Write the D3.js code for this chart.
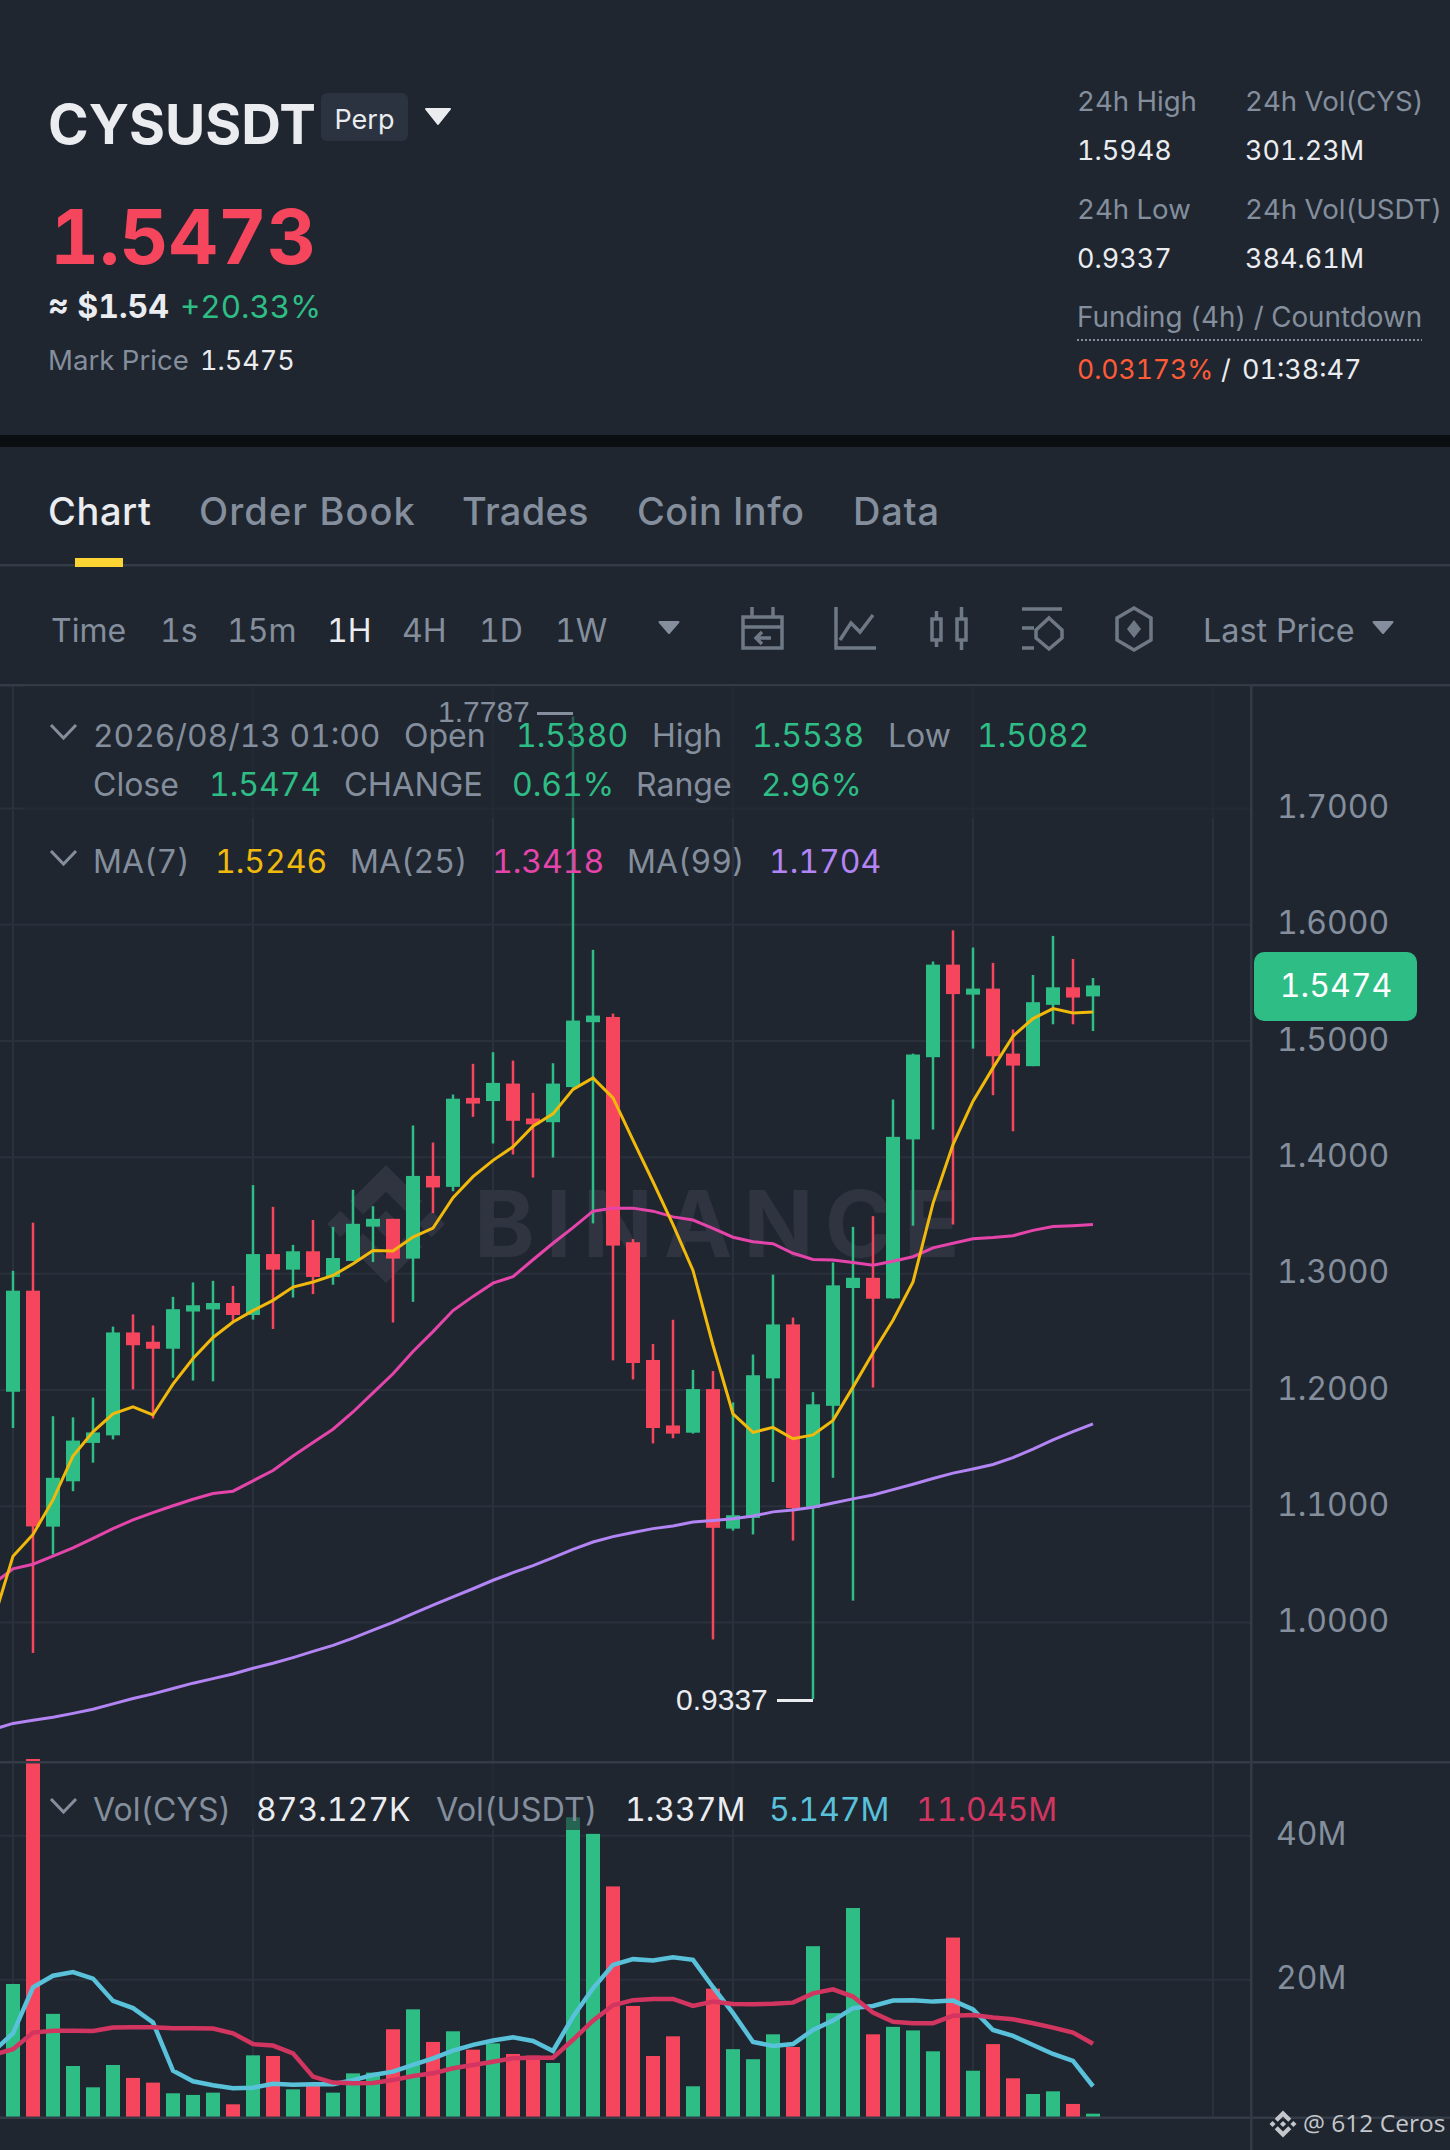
<!DOCTYPE html>
<html>
<head>
<meta charset="utf-8">
<style>
html,body { margin:0; padding:0; background:#1f2630; }
svg { display:block; }
text { font-family:"Inter","Noto Sans",sans-serif; font-feature-settings:"tnum" 1; }
</style>
</head>
<body>
<svg width="1450" height="2150"></svg>
<script src="https://d3js.org/d3.v7.min.js"></script>
<script>
// candles, oldest first
var opens = [1.198,1.2849,1.082,1.121,1.154,1.1605,1.249,1.241,1.235,1.267,1.2688,1.2743,1.264,1.3164,1.303,1.3188,1.2967,1.3105,1.340,1.3467,1.3125,1.3836,1.3742,1.4507,1.448,1.463,1.433,1.4298,1.460,1.5158,1.5203,1.3266,1.2253,1.169,1.1628,1.2003,1.0803,1.0895,1.2095,1.2559,1.098,1.1859,1.2872,1.296,1.2783,1.415,1.4857,1.5653,1.5395,1.5447,1.4888,1.478,1.5307,1.5458,1.538];
var highs = [1.302,1.3434,1.177,1.176,1.193,1.254,1.2645,1.255,1.2796,1.292,1.2934,1.289,1.3757,1.357,1.3243,1.3457,1.3398,1.3717,1.3576,1.3467,1.427,1.4123,1.4536,1.480,1.490,1.4828,1.455,1.4805,1.7787,1.578,1.5232,1.3293,1.2391,1.2599,1.2168,1.2158,1.1888,1.23,1.2987,1.2618,1.1977,1.3092,1.3398,1.349,1.4493,1.4888,1.568,1.5948,1.58,1.5668,1.5095,1.5564,1.59,1.5702,1.5538];
var lows = [1.1668,0.9734,1.058,1.1125,1.137,1.157,1.200,1.175,1.210,1.2076,1.207,1.258,1.260,1.252,1.279,1.282,1.290,1.3105,1.3095,1.2576,1.2753,1.3516,1.3705,1.4344,1.4115,1.402,1.3822,1.3994,1.4595,1.3428,1.225,1.2086,1.1536,1.158,1.162,0.985,1.0786,1.0753,1.1204,1.07,0.9337,1.124,1.0184,1.2016,1.278,1.3408,1.4235,1.3418,1.4931,1.453,1.422,1.478,1.514,1.514,1.5082];
var closes = [1.2849,1.0822,1.124,1.156,1.163,1.249,1.238,1.235,1.269,1.2724,1.2743,1.264,1.3164,1.303,1.3188,1.2967,1.313,1.3424,1.3467,1.3125,1.3836,1.3737,1.450,1.4458,1.4636,1.431,1.428,1.463,1.5172,1.5215,1.3237,1.2227,1.1668,1.162,1.2003,1.081,1.0918,1.2122,1.2559,1.098,1.1872,1.2895,1.296,1.278,1.4172,1.488,1.5653,1.540,1.5447,1.4865,1.4785,1.533,1.5458,1.537,1.5474];

// moving averages start one candle left of the frame
var ma7 = [1.0,1.0566,1.0753,1.105,1.1428,1.1635,1.179,1.185,1.178,1.2046,1.2266,1.2447,1.258,1.2678,1.2766,1.288,1.2924,1.298,1.308,1.3194,1.319,1.331,1.3388,1.3648,1.383,1.397,1.4086,1.4264,1.437,1.458,1.4679,1.4507,1.4143,1.3786,1.3418,1.3023,1.238,1.179,1.163,1.1674,1.1576,1.1609,1.1734,1.202,1.2316,1.2595,1.2924,1.36,1.4106,1.4479,1.4765,1.5037,1.5189,1.5275,1.5238,1.5246];
var ma25 = [1.0326,1.0457,1.0497,1.0566,1.0638,1.072,1.0803,1.0878,1.0941,1.1,1.1056,1.1105,1.1125,1.1214,1.1303,1.1428,1.1543,1.1658,1.1806,1.197,1.2135,1.2326,1.2497,1.2678,1.28,1.2914,1.297,1.3115,1.3257,1.3391,1.3533,1.3559,1.3559,1.3533,1.3484,1.3457,1.3385,1.3309,1.327,1.3253,1.3171,1.3118,1.3112,1.3092,1.3069,1.3102,1.3141,1.3217,1.3257,1.3296,1.3306,1.3322,1.3368,1.3401,1.3408,1.3418];
var ma99 = [0.9076,0.9128,0.9155,0.9181,0.9214,0.925,0.9296,0.9342,0.9382,0.9428,0.9474,0.9513,0.9553,0.9602,0.9645,0.9694,0.9747,0.9799,0.9862,0.9931,0.9997,1.0072,1.0145,1.0217,1.0286,1.0359,1.0424,1.0484,1.0553,1.0625,1.0688,1.0734,1.077,1.0803,1.0826,1.0859,1.0872,1.0888,1.0911,1.0947,1.0964,1.0987,1.1023,1.1059,1.1092,1.1138,1.1184,1.1234,1.128,1.1316,1.1355,1.1414,1.1487,1.1566,1.1638,1.1704];

// volume in millions USDT
var volumes = [19.35,50.6,15.2,7.96,5.0,8.1,6.3,5.65,4.17,3.94,4.26,2.64,9.44,9.35,4.72,5.5,4.26,6.94,7.04,13.06,15.83,11.3,12.78,10.23,11.1,9.63,9.4,8.38,42.5,40.2,32.9,16.3,9.35,12.08,5.14,18.7,10.3,8.9,12.36,10.6,24.6,15.3,29.9,12.36,13.4,12.9,10.0,25.8,7.3,11.0,6.25,4.07,4.44,2.69,1.337];
var volMa5 = [9.95,12.5,18.89,20.5,21.0,20.1,17.0,16.0,14.0,7.3,5.83,5.28,4.86,4.95,5.5,5.37,5.42,5.42,6.0,6.7,7.18,8.1,9.03,10.1,10.9,11.5,11.94,11.44,10.05,14.8,18.75,22.0,22.8,22.6,23.05,22.7,18.9,15.3,11.3,10.74,11.0,12.96,14.26,16.0,16.3,17.04,17.1,16.9,17.04,15.83,12.96,12.13,10.88,9.63,8.66,5.147];
var volMa10 = [9.5,10.28,12.6,12.87,12.87,12.82,13.29,13.33,13.33,13.2,13.2,13.15,12.5,11.0,10.8,9.72,6.48,5.65,5.56,5.6,6.0,6.57,6.94,7.64,8.1,8.56,9.03,9.12,9.12,11.6,14.26,16.4,17.1,17.27,17.27,16.3,16.9,16.57,16.53,16.6,16.76,18.05,18.6,17.6,15.37,14.1,13.9,13.9,14.95,15.05,14.68,14.44,13.9,13.29,12.6,11.045];

var priceTicks = [1.0,1.1,1.2,1.3,1.4,1.5,1.6,1.7];
var volTicks = [20,40];
var gridCandles = [0,12,24,36,48,60];

var bg = "#1f2630", green = "#2ebd85", red = "#f6465d", gray = "#848e9c", white = "#eaecef",
    line = "#333b47", gridColor = "#2a313c";

var svg = d3.select("svg");
var axisX = 1251;

var x = d3.scaleLinear().domain([0, 54]).range([13, 1093]);
var y = d3.scaleLinear().domain([1.0, 1.7]).range([1622, 808]);
var yVol = d3.scaleLinear().domain([0, 40]).range([2123.3, 1835.3]);

svg.append("rect").attr("width", 1450).attr("height", 2150).attr("fill", bg);

function label(parent, px, py, str, size, fill, weight, anchor) {
  return parent.append("text")
    .attr("x", px).attr("y", py)
    .attr("font-size", size)
    .attr("font-weight", weight || 400)
    .attr("text-anchor", anchor || "start")
    .attr("fill", fill)
    .text(str);
}
function tri(cx, top, w, h, fill) {
  svg.append("path")
    .attr("d", d3.line()([[cx - w / 2, top], [cx + w / 2, top], [cx, top + h]]) + "Z")
    .attr("fill", fill).attr("stroke", fill).attr("stroke-width", 2).attr("stroke-linejoin", "round");
}
function chevron(parent, top) {
  parent.append("path")
    .attr("d", "M51 " + top + "L63.5 " + (top + 13) + "L76 " + top)
    .attr("fill", "none").attr("stroke", gray).attr("stroke-width", 3);
}
var logoPaths = [
  "M38.73 53.2l24.59-24.58 24.6 24.6 14.3-14.31L63.32 0 24.43 38.89z",
  "M0 63.31l14.3-14.31 14.31 14.31-14.31 14.3z",
  "M38.73 73.41l24.59 24.59 24.6-24.6 14.31 14.29-38.9 38.91-38.91-38.88z",
  "M98 63.31l14.3-14.31 14.31 14.3-14.31 14.32z",
  "M77.83 63.3L63.32 48.78 52.59 59.51l-1.24 1.23-2.54 2.54 14.51 14.5 14.51-14.47z"
];
function logo(cx, cy, size, fill) {
  var s = size / 126.61;
  var g = svg.append("g").attr("transform", "translate(" + (cx - size / 2) + "," + (cy - size / 2) + ") scale(" + s + ")");
  logoPaths.forEach(function (d) { g.append("path").attr("d", d).attr("fill", fill); });
}

// ---- header ----
var head = svg.append("g");
label(head, 48, 144, "CYSUSDT", 55, white, 700);
head.append("rect").attr("x", 321).attr("y", 93).attr("width", 87).attr("height", 48).attr("rx", 6).attr("fill", "#2b3340");
label(head, 364.5, 129, "Perp", 27, white, 400, "middle");
tri(438, 109, 24, 15, white);
label(head, 50, 264, "1.5473", 76, red, 700);
label(head, 48, 318, "≈ $1.54", 32, white, 700);
label(head, 180, 318, "+20.33%", 31.4, green);
label(head, 48, 370, "Mark Price", 27.6, gray);
label(head, 200, 370, "1.5475", 27, white);

label(head, 1077, 111, "24h High", 27.6, gray);
label(head, 1245, 111, "24h Vol(CYS)", 27.6, gray);
label(head, 1077, 159.5, "1.5948", 27, white);
label(head, 1245, 159.5, "301.23M", 27, white);
label(head, 1077, 219, "24h Low", 27.6, gray);
label(head, 1245, 219, "24h Vol(USDT)", 27.6, gray);
label(head, 1077, 267.5, "0.9337", 27, white);
label(head, 1245, 267.5, "384.61M", 27, white);
label(head, 1077, 327, "Funding (4h) / Countdown", 27.8, gray);
head.append("line").attr("x1", 1077).attr("x2", 1422).attr("y1", 340).attr("y2", 340)
  .attr("stroke", gray).attr("stroke-width", 2).attr("stroke-dasharray", "2 2");
label(head, 1077, 379, "0.03173%", 26.5, "#ff5b36");
label(head, 1221, 379, "/", 27, white);
label(head, 1242, 379, "01:38:47", 27, white);

svg.append("rect").attr("x", 0).attr("y", 435).attr("width", 1450).attr("height", 12).attr("fill", "#0b0e11");

// ---- tabs ----
var tabNames = ["Chart", "Order Book", "Trades", "Coin Info", "Data"];
var tabX = [48, 199, 462, 637, 853];
var tabSpacing = [0.6, 1.1, 0.3, 0.5, 0.8];
tabNames.forEach(function (t, i) {
  label(svg, tabX[i], 524.5, t, 38, i === 0 ? white : gray, 500).attr("letter-spacing", tabSpacing[i]);
});
svg.append("rect").attr("x", 0).attr("y", 564).attr("width", 1450).attr("height", 2.5).attr("fill", line);
svg.append("rect").attr("x", 75).attr("y", 558).attr("width", 48).attr("height", 9).attr("fill", "#fcd535");

// ---- toolbar ----
var frames = ["Time", "1s", "15m", "1H", "4H", "1D", "1W"];
var frameX = [51, 160, 227, 327, 402, 479, 555];
frames.forEach(function (t, i) { label(svg, frameX[i], 641.5, t, 32, t === "1H" ? white : gray); });
tri(669, 622, 19, 11, gray);
label(svg, 1203, 641.5, "Last Price", 32.4, gray);
tri(1383, 622, 19, 11, gray);

var icons = svg.append("g").attr("fill", "none").attr("stroke", "#6f7885").attr("stroke-width", 3.5);
icons.append("path").attr("d", "M743 617h39v31h-39zM743 627h39M752 607v10M773 607v10M771 638h-15M762 632l-6 6 6 6");
icons.append("path").attr("d", "M836 607v41h40M840 640l11-17 9 9 13-17");
icons.append("path").attr("d", "M932 619h9v21h-9zM957 619h9v21h-9zM936.500 611v8M936.500 640v7M961.500 607v12M961.500 640v10");
icons.append("path").attr("d", "M1022 609h40M1022 628h12M1022 648h12M1049 618l13 12v8l-13 11-13-11v-8z");
icons.append("path").attr("d", "M1134 608l17 10v22l-17 10-17-10v-22z");
icons.append("path").attr("d", "M1134 620l7 9-7 9-7-9z").attr("fill", "#6f7885").attr("stroke", "none");

svg.append("rect").attr("x", 0).attr("y", 684).attr("width", 1450).attr("height", 2.5).attr("fill", line);

// ---- grid ----
var grid = svg.append("g").attr("stroke", gridColor).attr("stroke-width", 2);
grid.selectAll(".v").data(gridCandles).enter().append("line")
  .attr("x1", function (d) { return x(d); }).attr("x2", function (d) { return x(d); })
  .attr("y1", 686).attr("y2", 2117);

var yGrid = svg.append("g").call(d3.axisLeft(y).tickValues(priceTicks).tickSize(axisX).tickFormat(""))
  .attr("transform", "translate(" + axisX + ",0)");
yGrid.select(".domain").remove();
yGrid.selectAll("line").attr("stroke", gridColor).attr("stroke-width", 2);
var vGrid = svg.append("g").call(d3.axisLeft(yVol).tickValues(volTicks).tickSize(axisX).tickFormat(""))
  .attr("transform", "translate(" + axisX + ",0)");
vGrid.select(".domain").remove();
vGrid.selectAll("line").attr("stroke", gridColor).attr("stroke-width", 2);

// ---- watermark ----
logo(386, 1224, 118, "#2f3440");
svg.append("text").attr("x", 474).attr("y", 1257).attr("font-size", 92).attr("font-weight", 700)
  .attr("fill", "#2f3440").attr("letter-spacing", 11).text("BINANCE");

// ---- candles ----
var indices = d3.range(opens.length);
function colorOf(i) { return closes[i] >= opens[i] ? green : red; }

var candles = svg.append("g");
candles.selectAll(".wick").data(indices).enter().append("rect")
  .attr("x", function (i) { return x(i) - 1.25; })
  .attr("width", 2.5)
  .attr("y", function (i) { return y(highs[i]); })
  .attr("height", function (i) { return y(lows[i]) - y(highs[i]); })
  .attr("fill", colorOf);
candles.selectAll(".body").data(indices).enter().append("rect")
  .attr("x", function (i) { return x(i) - 7; })
  .attr("width", 14)
  .attr("y", function (i) { return y(Math.max(opens[i], closes[i])); })
  .attr("height", function (i) { return Math.max(1.5, Math.abs(y(opens[i]) - y(closes[i]))); })
  .attr("fill", colorOf);

var maLine = d3.line().x(function (d, i) { return x(i - 1); }).y(function (d) { return y(d); });
[[ma99, "#b284f4"], [ma25, "#e545ab"], [ma7, "#f0b90b"]].forEach(function (s) {
  svg.append("path").datum(s[0]).attr("d", maLine)
    .attr("fill", "none").attr("stroke", s[1]).attr("stroke-width", 3);
});

// ---- volume pane ----
svg.append("clipPath").attr("id", "volClip").append("rect").attr("x", 0).attr("y", 1750).attr("width", axisX).attr("height", 367);
var volG = svg.append("g").attr("clip-path", "url(#volClip)");
volG.selectAll(".vol").data(indices).enter().append("rect")
  .attr("x", function (i) { return x(i) - 7; })
  .attr("width", 14)
  .attr("y", function (i) { return yVol(volumes[i]); })
  .attr("height", function (i) { return yVol(0) - yVol(volumes[i]); })
  .attr("fill", colorOf);
var volLine = d3.line().x(function (d, i) { return x(i - 1); }).y(function (d) { return yVol(d); });
[[volMa5, "#59c1da"], [volMa10, "#d23560"]].forEach(function (s) {
  volG.append("path").datum(s[0]).attr("d", volLine)
    .attr("fill", "none").attr("stroke", s[1]).attr("stroke-width", 4.5);
});

// ---- legend veils sit over the marks ----
svg.append("rect").attr("x", 24).attr("y", 686).attr("width", axisX - 24).attr("height", 132).attr("fill", bg).attr("opacity", 0.6);
svg.append("rect").attr("x", 46).attr("y", 1764).attr("width", 1010).attr("height", 66).attr("fill", bg).attr("opacity", 0.6);

// high / low markers
label(svg, 438, 722, "1.7787", 30, gray).style("font-family", "Liberation Sans");
svg.append("line").attr("x1", 537).attr("x2", x(28)).attr("y1", y(1.7787) - 3).attr("y2", y(1.7787) - 3).attr("stroke", gray).attr("stroke-width", 3);
label(svg, 676, 1709.5, "0.9337", 30, white).style("font-family", "Liberation Sans");
svg.append("line").attr("x1", 777).attr("x2", x(40)).attr("y1", y(0.9337) + 1.5).attr("y2", y(0.9337) + 1.5).attr("stroke", white).attr("stroke-width", 3);

// ---- pane rules ----
svg.append("rect").attr("x", 0).attr("y", 1761).attr("width", 1450).attr("height", 2.5).attr("fill", line);
svg.append("rect").attr("x", 0).attr("y", 2116.5).attr("width", 1450).attr("height", 2.5).attr("fill", line);
svg.append("rect").attr("x", axisX - 1).attr("y", 686).attr("width", 2.5).attr("height", 1464).attr("fill", line);

// ---- legends ----
var leg = svg.append("g");
chevron(leg, 725);
label(leg, 93, 747, "2026/08/13 01:00", 31.8, gray);
label(leg, 404, 747, "Open", 32, gray);
label(leg, 516, 747, "1.5380", 32, green);
label(leg, 652, 747, "High", 32, gray);
label(leg, 752, 747, "1.5538", 32, green);
label(leg, 888, 747, "Low", 32, gray);
label(leg, 977, 747, "1.5082", 32, green);
label(leg, 93, 796, "Close", 32, gray);
label(leg, 209, 796, "1.5474", 32, green);
label(leg, 344, 796, "CHANGE", 32.6, gray);
label(leg, 512, 796, "0.61%", 32, green);
label(leg, 636, 796, "Range", 32, gray);
label(leg, 761, 796, "2.96%", 31.5, green);
chevron(leg, 851);
label(leg, 93, 873, "MA(7)", 32, gray);
label(leg, 215, 873, "1.5246", 32, "#f0b90b");
label(leg, 350, 873, "MA(25)", 32, gray);
label(leg, 492, 873, "1.3418", 32, "#e545ab");
label(leg, 627, 873, "MA(99)", 32, gray);
label(leg, 769, 873, "1.1704", 32, "#b284f4");
chevron(leg, 1799);
label(leg, 93, 1821, "Vol(CYS)", 32, gray);
label(leg, 256, 1821, "873.127K", 32, white);
label(leg, 436, 1821, "Vol(USDT)", 32.4, gray);
label(leg, 625, 1821, "1.337M", 32, white);
label(leg, 769, 1821, "5.147M", 32, "#59c1da");
label(leg, 916, 1821, "11.045M", 32, "#d23560");

// ---- axes ----
var yAxis = svg.append("g").attr("transform", "translate(" + axisX + ",0)")
  .call(d3.axisRight(y).tickValues(priceTicks).tickSize(0).tickPadding(26).tickFormat(d3.format(".4f")));
yAxis.select(".domain").remove();
yAxis.selectAll("text").attr("font-size", 32).attr("fill", gray).attr("dy", "0.3em").style("font-family", "Inter");

var volAxis = svg.append("g").attr("transform", "translate(" + axisX + ",0)")
  .call(d3.axisRight(yVol).tickValues(volTicks).tickSize(0).tickPadding(25).tickFormat(function (d) { return d + "M"; }));
volAxis.select(".domain").remove();
volAxis.selectAll("text").attr("font-size", 32).attr("fill", gray).attr("dy", "0.3em").style("font-family", "Inter");

// last price tag
svg.append("rect").attr("x", 1254).attr("y", 952).attr("width", 163).attr("height", 69).attr("rx", 10).attr("fill", green);
label(svg, 1336, 997, "1.5474", 32, "#ffffff", 400, "middle");

// credit
logo(1283, 2124, 27, "#c4c7cc");
label(svg, 1303, 2132, "@ 612 Ceros", 24.5, "#c4c7cc").style("font-family", "Open Sans");
</script>
</body>
</html>
